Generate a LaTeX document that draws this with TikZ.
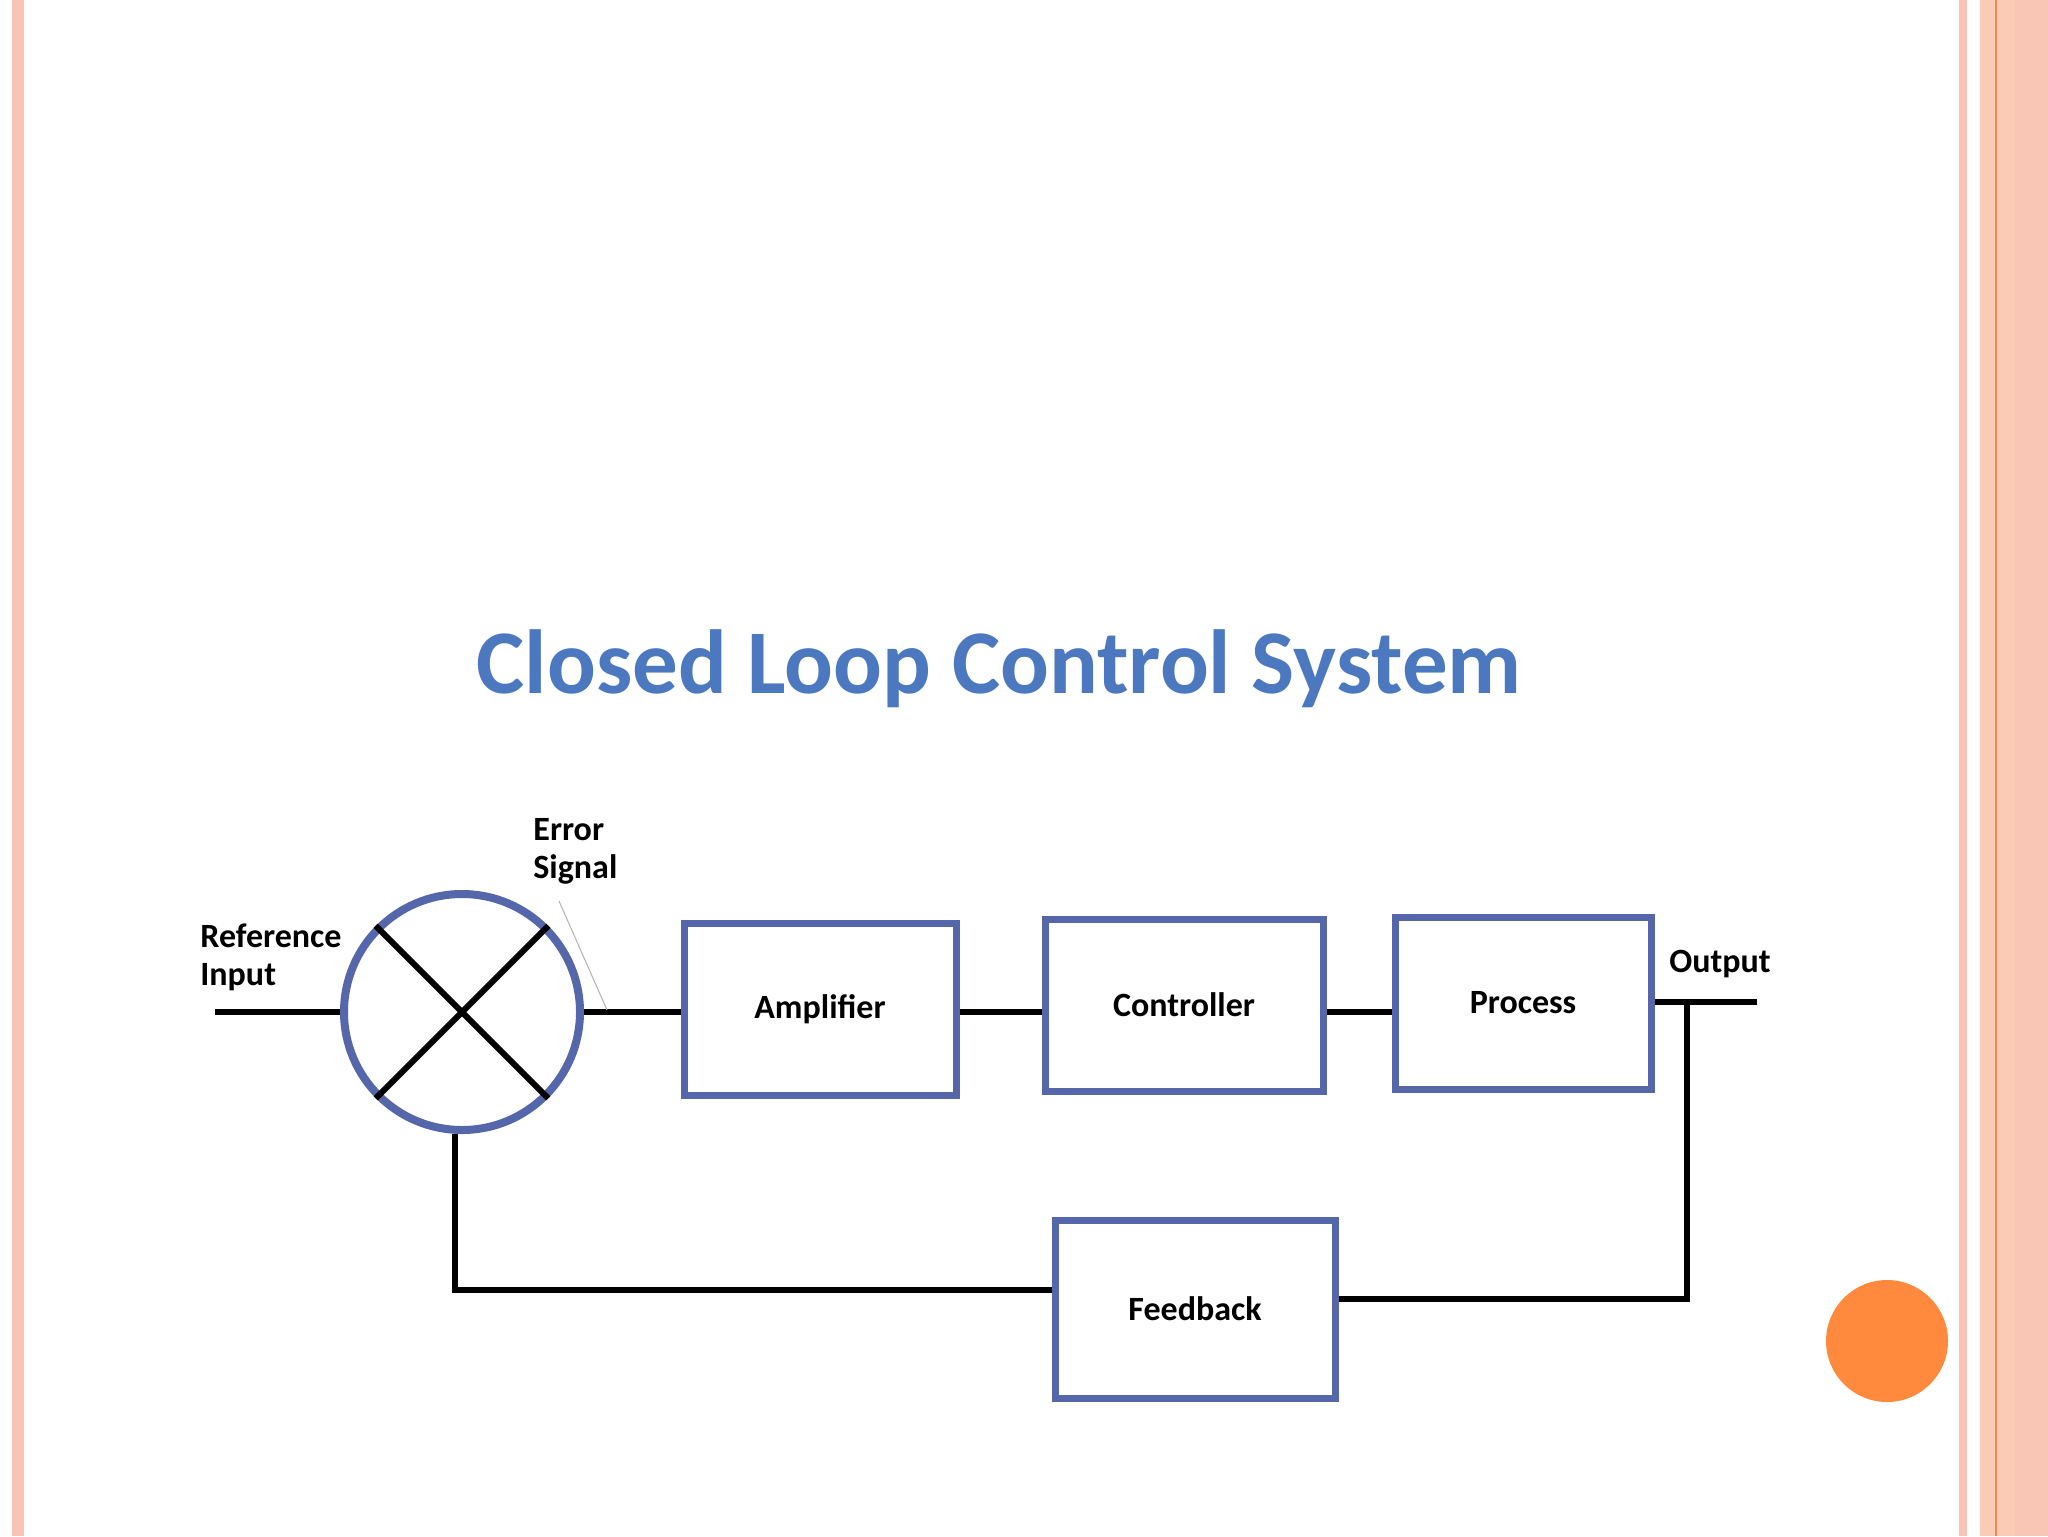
\documentclass[tikz,border=0pt]{standalone}
\usepackage{fontspec}
\setmainfont{Carlito}
\definecolor{boxblue}{HTML}{5566AA}
\definecolor{titleblue}{HTML}{4C78C0}
\definecolor{pinkb}{HTML}{F9C3B5}
\definecolor{pinkc}{HTML}{FBCBB6}
\definecolor{orangel}{HTML}{F28A4E}
\definecolor{dot}{HTML}{FF8A3D}
\begin{document}
\begin{tikzpicture}[x=0.5pt,y=-0.5pt,
  blk/.style={draw=boxblue,line width=3.5pt,minimum width=#1,minimum height=86pt,inner sep=0pt,font=\fontsize{17}{20}\selectfont\bfseries},
  lbl/.style={font=\fontsize{17}{20}\selectfont\bfseries,align=left,inner sep=0pt},
  wire/.style={line width=3pt,black}]
\useasboundingbox (0,0) rectangle (2048,1536);
\fill[white] (0,0) rectangle (2048,1536);
% borders
\fill[pinkb] (12,0) rectangle (24,1536);
\fill[pinkb] (1959,0) rectangle (1967,1536);
\fill[pinkc] (1980,0) rectangle (2048,1536);
\fill[pinkb!80!pinkc] (2015,0) rectangle (2048,1536);
\draw[orangel,line width=0.8pt] (1996,0) -- (1996,1536);
% title
\node[text=titleblue,font=\fontsize{45.5}{52}\selectfont\bfseries] (title) at (999,669) {Closed Loop Control System};
% summing junction
\node[circle,draw=boxblue,line width=4pt,minimum size=118pt,inner sep=0pt] (sum) at (462,1012) {};
\draw[wire] (sum.135) -- (sum.-45);
\draw[wire] (sum.45) -- (sum.-135);
% blocks
\node[blk=136pt] (amp) at (820,1009) {Amplifier};
\node[blk=139pt] (ctl) at (1184,1005) {Controller};
\node[blk=128pt] (proc) at (1523,1003) {Process};
\node[blk=140pt,minimum height=89pt] (fb) at (1195,1309) {Feedback};
% labels
\node[lbl,anchor=west] (ref) at (200,957) {Reference\\[-1pt]Input};
\node[lbl,anchor=west] (err) at (533,851) {Error\\[-1pt]Signal};
\node[lbl] (out) at (1720,964) {Output};
% wires
\coordinate (in) at (215,1012);
\coordinate (y1) at (0,1012);
\coordinate (o) at (1757,1002);
\coordinate (tap) at (1687,1002);
\coordinate (fr) at (1687,1299);
\coordinate (fl) at (455,1290);
\draw[wire] (in) -- (sum.west);
\draw[wire] (sum.east) -- (amp.west|-y1);
\draw[wire] (amp.east|-y1) -- (ctl.west|-y1);
\draw[wire] (ctl.east|-y1) -- (proc.west|-y1);
\draw[wire] (proc.east|-o) -- (o);
\draw[wire] (tap) -- (fr) -- (fb.east|-fr);
\draw[wire] (fb.west|-fl) -- (fl) -- (fl|-sum.south);
\draw[gray!60,line width=0.5pt] (559,901) -- (607,1010);
% orange dot
\fill[dot] (1887,1341) circle (61);
\end{tikzpicture}
\end{document}
